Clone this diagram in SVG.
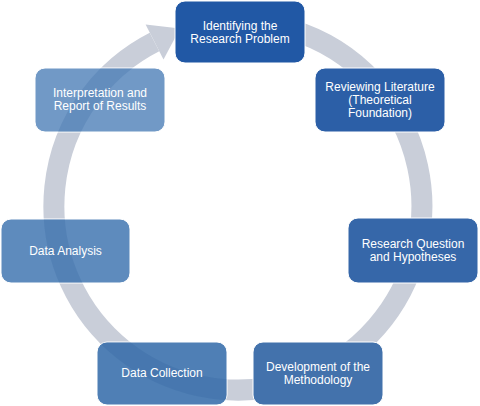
<svg xmlns="http://www.w3.org/2000/svg" width="480" height="406" viewBox="0 0 480 406">
  <defs>
    <style>
      .box { stroke: #ffffff; stroke-width: 1; }
      .lbl { font-family: "Liberation Sans", Arial, sans-serif; font-size: 12px; fill: #ffffff; text-anchor: middle; }
    </style>
    <clipPath id="lightBoxes">
      <rect x="97" y="342" width="130" height="63" rx="10"/>
      <rect x="1" y="219" width="129" height="64" rx="10"/>
      <rect x="35" y="68" width="130" height="64" rx="10"/>
    </clipPath>
  </defs>
  <rect width="480" height="406" fill="#ffffff"/>

  <g id="connectors">
    <path id="cycle-ring" d="M206,24.8 A184,184 0 1 1 154.5,42" fill="none" stroke="#c9ced9" stroke-width="21"/>
    <polygon id="cycle-arrowhead" points="145.6,24.5 180,28.5 163.5,59.5" fill="#c9ced9"/>
  </g>

  <g id="node-identifying">
    <rect class="box" x="175" y="1" width="130" height="62" rx="10" fill="#2158a5"/>
    <text class="lbl" x="240" y="30">Identifying the</text>
    <text class="lbl" x="240" y="43">Research Problem</text>
  </g>
  <g id="node-reviewing">
    <rect class="box" x="315" y="68" width="130" height="64" rx="10" fill="#2c5fa7"/>
    <text class="lbl" x="380" y="91">Reviewing Literature</text>
    <text class="lbl" x="380" y="104">(Theoretical</text>
    <text class="lbl" x="380" y="117">Foundation)</text>
  </g>
  <g id="node-question">
    <rect class="box" x="348" y="218" width="130" height="65" rx="10" fill="#3667a9"/>
    <text class="lbl" x="413" y="248">Research Question</text>
    <text class="lbl" x="413" y="261">and Hypotheses</text>
  </g>
  <g id="node-methodology">
    <rect class="box" x="253" y="342" width="130" height="63" rx="10" fill="#4372ac"/>
    <text class="lbl" x="318" y="371">Development of the</text>
    <text class="lbl" x="318" y="384">Methodology</text>
  </g>
  <g id="node-collection">
    <rect class="box" x="97" y="342" width="130" height="63" rx="10" fill="#4f7fb5"/>
  </g>
  <g id="node-analysis">
    <rect class="box" x="1" y="219" width="129" height="64" rx="10" fill="#5e8bbd"/>
  </g>
  <g id="node-interpretation">
    <rect class="box" x="35" y="68" width="130" height="64" rx="10" fill="#7199c6"/>
  </g>
  <path d="M206,24.8 A184,184 0 1 1 154.5,42" fill="none" stroke="#1f4f8f" stroke-opacity="0.16" stroke-width="21" clip-path="url(#lightBoxes)"/>
  <text class="lbl" x="162" y="377">Data Collection</text>
  <text class="lbl" x="65.5" y="255">Data Analysis</text>
  <text class="lbl" x="100" y="97">Interpretation and</text>
  <text class="lbl" x="100" y="110">Report of Results</text>
</svg>
